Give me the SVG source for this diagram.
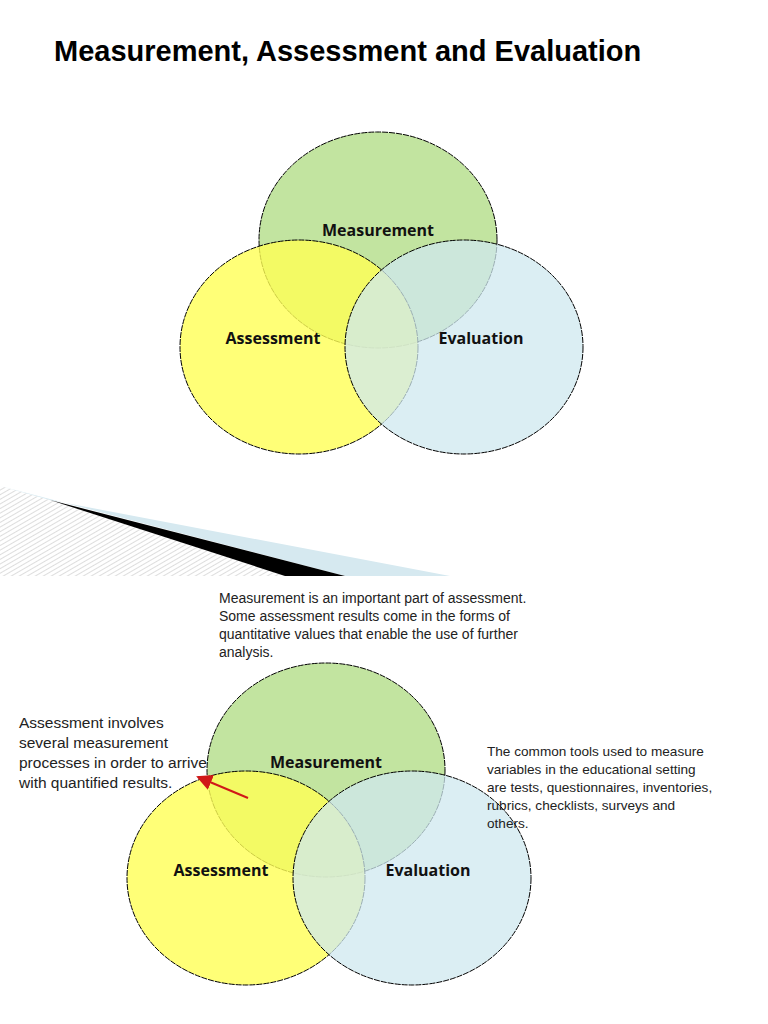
<svg xmlns="http://www.w3.org/2000/svg" width="768" height="1024" viewBox="0 0 768 1024">
<defs>
<style>
.c{stroke:#000;stroke-width:1;stroke-dasharray:6 1}
.m{fill:#a8d878;fill-opacity:0.7}
.a{fill:#ffff55;fill-opacity:0.8}
.e{fill:#cfe8ef;fill-opacity:0.75}
.lb{font-family:"Open Sans","Liberation Sans",sans-serif;font-weight:bold;font-size:16px;fill:#111}
.t{font-family:"Liberation Sans",Arial,sans-serif;font-size:14px;fill:#222}
.t3{font-family:"Liberation Sans",Arial,sans-serif;font-size:13.6px;fill:#222}
.t2{font-family:"Liberation Sans",Arial,sans-serif;font-size:15.5px;fill:#222}
</style>
<pattern id="h" width="4" height="4" patternUnits="userSpaceOnUse" patternTransform="rotate(60)">
<rect width="4" height="4" fill="#fff"/><line x1="0" y1="0" x2="0" y2="4" stroke="#bbb" stroke-width="1"/>
</pattern>
<marker id="ar" markerWidth="8" markerHeight="8" refX="7" refY="4" orient="auto"><path d="M0,0 L8,4 L0,8 z" fill="#d01818"/></marker>
</defs>
<rect width="768" height="1024" fill="#fff"/>
<text x="54" y="61" font-family="Liberation Sans,Arial,sans-serif" font-weight="bold" font-size="29" fill="#000">Measurement, Assessment and Evaluation</text>
<g id="top-venn">
<g id="t-meas"><ellipse class="c m" cx="378" cy="240" rx="119" ry="108"/></g>
<g id="t-ass"><ellipse class="c a" cx="299" cy="347" rx="119" ry="107"/></g>
<g id="t-eval"><ellipse class="c e" cx="464" cy="347" rx="119" ry="107"/></g>
<text class="lb" x="378" y="236" text-anchor="middle">Measurement</text>
<text class="lb" x="273" y="344" text-anchor="middle">Assessment</text>
<text class="lb" x="481" y="344" text-anchor="middle">Evaluation</text>
</g>
<g id="divider">
<polygon points="0,486 0,576 285,576 50,500" fill="url(#h)"/>
<polygon points="0,486 50,500 450,576 345,576" fill="#d6e9f0"/>
<polygon points="50,500 345,576 285,576" fill="#000"/>
</g>
<text class="t" x="219" y="603">Measurement is an important part of assessment.</text>
<text class="t" x="219" y="621">Some assessment results come in the forms of</text>
<text class="t" x="219" y="639">quantitative values that enable the use of further</text>
<text class="t" x="219" y="657">analysis.</text>
<g id="bottom-venn">
<g id="b-meas"><ellipse class="c m" cx="326" cy="770" rx="119" ry="107"/></g>
<g id="b-ass"><ellipse class="c a" cx="246" cy="878" rx="119" ry="107"/></g>
<g id="b-eval"><ellipse class="c e" cx="412" cy="878" rx="119" ry="107"/></g>
<text class="lb" x="326" y="768" text-anchor="middle">Measurement</text>
<text class="lb" x="221" y="876" text-anchor="middle">Assessment</text>
<text class="lb" x="428" y="876" text-anchor="middle">Evaluation</text>
</g>
<text class="t2" x="19" y="728">Assessment involves</text>
<text class="t2" x="19" y="748">several measurement</text>
<text class="t2" x="19" y="768">processes in order to arrive</text>
<text class="t2" x="19" y="788">with quantified results.</text>
<g id="connectors"><line x1="248" y1="798" x2="198" y2="777" stroke="#d01818" stroke-width="2" marker-end="url(#ar)"/></g>
<text class="t3" x="487" y="756">The common tools used to measure</text>
<text class="t3" x="487" y="774">variables in the educational setting</text>
<text class="t3" x="487" y="792">are tests, questionnaires, inventories,</text>
<text class="t3" x="487" y="810">rubrics, checklists, surveys and</text>
<text class="t3" x="487" y="828">others.</text>
</svg>
